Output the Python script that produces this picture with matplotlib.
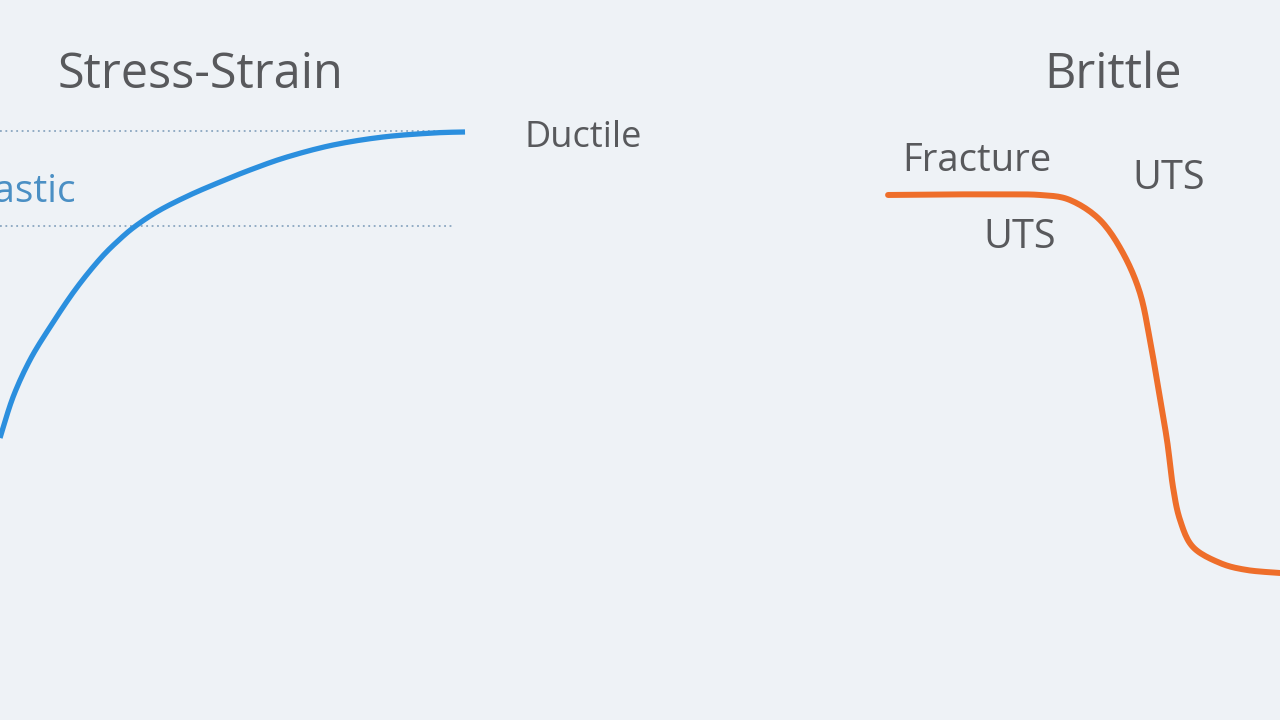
import matplotlib
matplotlib.use("Agg")
import matplotlib.pyplot as plt
import numpy as np

# Data (strain %, stress %)
ductile_strain = [0.0, 1.02, 2.34, 3.91, 5.86, 7.81, 9.38, 10.70, 12.50, 14.84, 17.19, 19.53,
                  22.42, 26.02, 29.92, 33.83, 36.33]
ductile_stress = [39.17, 44.86, 50.00, 54.58, 59.72, 64.03, 66.81, 68.75, 70.83, 72.92, 74.72, 76.39,
                  78.19, 79.86, 80.97, 81.53, 81.67]

brittle_strain = [69.38, 74.22, 78.13, 81.25, 83.59, 85.94, 87.73, 89.06, 89.84, 90.47, 91.17,
                  91.64, 92.19, 93.20, 95.31, 97.42, 100.0]
brittle_stress = [72.92, 73.00, 73.00, 72.92, 72.22, 69.44, 64.86, 59.31, 52.78, 46.25, 38.89,
                  32.36, 27.78, 24.03, 21.81, 20.83, 20.42]

ref_levels = [81.8, 68.6]
ref_ends = [36.3, 35.3]


def smooth_path(xs, ys, n=12):
    """Catmull-Rom rendering of a polyline through the given points (drawing only)."""
    p = np.column_stack([xs, ys]).astype(float)
    p = np.vstack([p[0], p, p[-1]])
    out = []
    t = np.linspace(0, 1, n, endpoint=False)[:, None]
    for i in range(1, len(p) - 2):
        p0, p1, p2, p3 = p[i - 1], p[i], p[i + 1], p[i + 2]
        seg = 0.5 * ((2 * p1) + (-p0 + p2) * t + (2 * p0 - 5 * p1 + 4 * p2 - p3) * t ** 2
                     + (-p0 + 3 * p1 - 3 * p2 + p3) * t ** 3)
        out.append(seg)
    out.append(p[-2][None, :])
    out = np.vstack(out)
    return out[:, 0], out[:, 1]


bg = "#eef2f6"
fig = plt.figure(figsize=(12.8, 7.2), dpi=100, facecolor=bg)
ax = fig.add_axes([0, 0, 1, 1])
ax.set_facecolor(bg)
ax.set_xlim(0, 100)
ax.set_ylim(0, 100)
ax.axis("off")

for lvl, end in zip(ref_levels, ref_ends):
    ax.plot([0, end], [lvl, lvl], linestyle=(0, (1, 2)), color="#8aa6c0", lw=1.3)

dx, dy = smooth_path(ductile_strain, ductile_stress)
ax.plot(dx, dy, color="#2b8fde", lw=3.8, solid_capstyle="butt", solid_joinstyle="round")
bx, by = smooth_path(brittle_strain, brittle_stress)
ax.plot(bx, by, color="#ee6e2a", lw=4.3, solid_capstyle="round", solid_joinstyle="round")

txt = "#58595c"
fam = ["Open Sans", "DejaVu Sans"]
ax.text(4.5, 87.8, "Stress-Strain", fontsize=35, color=txt, va="baseline", ha="left", family=fam)
ax.text(81.6, 87.8, "Brittle", fontsize=35, color=txt, va="baseline", ha="left", family=fam)
ax.text(41.0, 79.6, "Ductile", fontsize=26, color=txt, va="baseline", ha="left", family=fam)
ax.text(70.5, 76.2, "Fracture", fontsize=27.5, color=txt, va="baseline", ha="left", family=fam)
ax.text(88.5, 73.7, "UTS", fontsize=28.5, color=txt, va="baseline", ha="left", family=fam)
ax.text(76.8, 65.5, "UTS", fontsize=28.5, color=txt, va="baseline", ha="left", family=fam)
ax.text(5.9, 72.0, "Elastic", fontsize=28, color="#4a8fc4", va="baseline", ha="right", family=fam)

fig.savefig("out.png", dpi=100, facecolor=bg)
